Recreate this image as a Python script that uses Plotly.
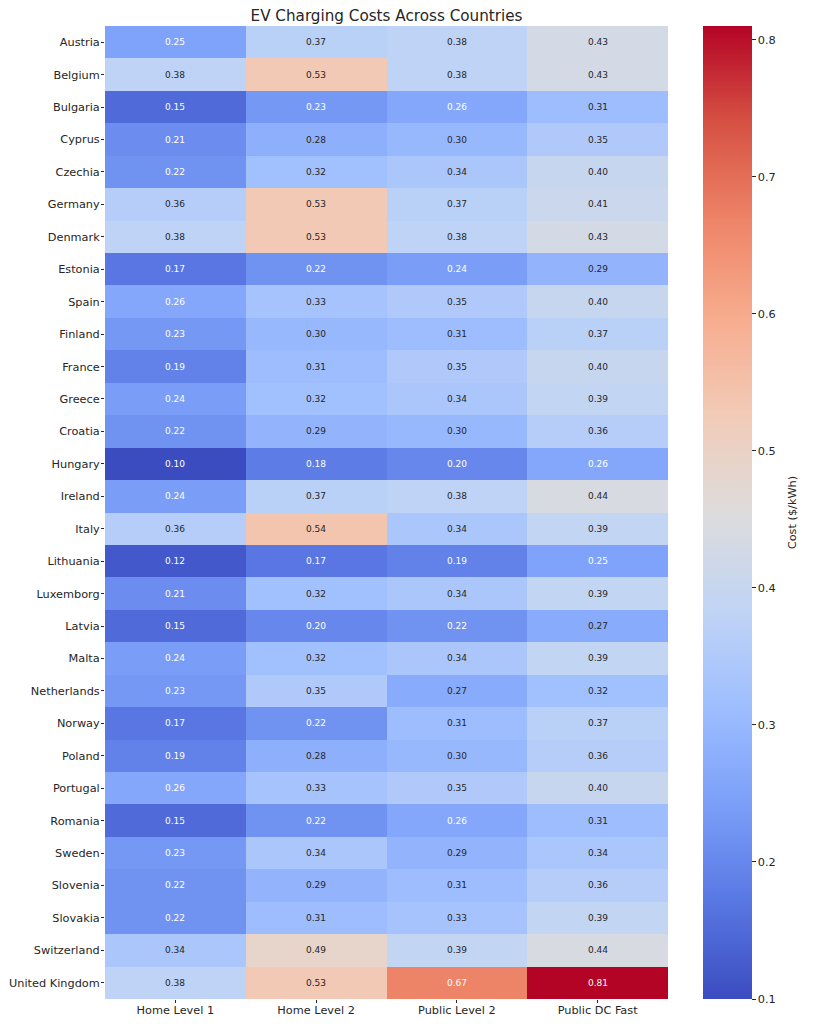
import plotly.graph_objects as go

countries = ["Austria", "Belgium", "Bulgaria", "Cyprus", "Czechia", "Germany", "Denmark",
             "Estonia", "Spain", "Finland", "France", "Greece", "Croatia", "Hungary",
             "Ireland", "Italy", "Lithuania", "Luxemborg", "Latvia", "Malta", "Netherlands",
             "Norway", "Poland", "Portugal", "Romania", "Sweden", "Slovenia", "Slovakia",
             "Switzerland", "United Kingdom"]
charger_types = ["Home Level 1", "Home Level 2", "Public Level 2", "Public DC Fast"]

home_level_1 = [0.25, 0.38, 0.15, 0.21, 0.22, 0.36, 0.38, 0.17, 0.26, 0.23, 0.19, 0.24, 0.22, 0.10,
                0.24, 0.36, 0.12, 0.21, 0.15, 0.24, 0.23, 0.17, 0.19, 0.26, 0.15, 0.23, 0.22, 0.22,
                0.34, 0.38]
home_level_2 = [0.37, 0.53, 0.23, 0.28, 0.32, 0.53, 0.53, 0.22, 0.33, 0.30, 0.31, 0.32, 0.29, 0.18,
                0.37, 0.54, 0.17, 0.32, 0.20, 0.32, 0.35, 0.22, 0.28, 0.33, 0.22, 0.34, 0.29, 0.31,
                0.49, 0.53]
public_level_2 = [0.38, 0.38, 0.26, 0.30, 0.34, 0.37, 0.38, 0.24, 0.35, 0.31, 0.35, 0.34, 0.30, 0.20,
                  0.38, 0.34, 0.19, 0.34, 0.22, 0.34, 0.27, 0.31, 0.30, 0.35, 0.26, 0.29, 0.31, 0.33,
                  0.39, 0.67]
public_dc_fast = [0.43, 0.43, 0.31, 0.35, 0.40, 0.41, 0.43, 0.29, 0.40, 0.37, 0.40, 0.39, 0.36, 0.26,
                  0.44, 0.39, 0.25, 0.39, 0.27, 0.39, 0.32, 0.37, 0.36, 0.40, 0.31, 0.34, 0.36, 0.39,
                  0.44, 0.81]
colorbar_ticks = [0.1, 0.2, 0.3, 0.4, 0.5, 0.6, 0.7, 0.8]

coolwarm = ["#3b4cc0", "#5977e3", "#7b9ff9", "#9ebeff", "#c0d4f5", "#dddcdc",
            "#f2cbb7", "#f7ac8e", "#ee8468", "#d65244", "#b40426"]
colorscale = [[i / (len(coolwarm) - 1), c] for i, c in enumerate(coolwarm)]

columns = [home_level_1, home_level_2, public_level_2, public_dc_fast]
z = [[columns[j][i] for j in range(len(columns))] for i in range(len(countries))]
zmin, zmax = 0.1, max(max(c) for c in columns)

FONT = "DejaVu Sans"
DARK = "#262626"
TICK = 11.3

fig = go.Figure(go.Heatmap(
    z=z, x=charger_types, y=countries,
    colorscale=colorscale, zmin=zmin, zmax=zmax, xgap=0, ygap=0,
    colorbar=dict(
        title=dict(text="Cost ($/kWh)", side="right", font=dict(family=FONT, size=11.3, color=DARK)),
        tickvals=colorbar_ticks, ticktext=[f"{t:.1f}" for t in colorbar_ticks],
        ticks="outside", ticklen=4, tickcolor=DARK,
        tickfont=dict(family=FONT, size=TICK, color=DARK),
        thickness=49, thicknessmode="pixels", len=1.0, lenmode="fraction",
        y=0.5, yanchor="middle",
        xref="container", x=703 / 819, xanchor="left", xpad=0, ypad=0, outlinewidth=0,
    ),
    hoverongaps=False,
))

annotations = []
for i, c in enumerate(countries):
    for j, t in enumerate(charger_types):
        v = z[i][j]
        col = "white" if (v < 0.265 or v > 0.6) else DARK
        annotations.append(dict(x=t, y=c, xref="x", yref="y", text=f"{v:.2f}", showarrow=False,
                                font=dict(family=FONT, size=9, color=col)))

fig.update_layout(
    width=819, height=1024,
    margin=dict(l=105, r=151, t=26, b=25, autoexpand=False),
    paper_bgcolor="white", plot_bgcolor="white",
    title=dict(text="EV Charging Costs Across Countries", x=(105 + 668) / 2 / 819, xanchor="center",
               y=1 - 16 / 1024, yanchor="middle", font=dict(family=FONT, size=15.2, color=DARK)),
    annotations=annotations,
    font=dict(family=FONT, color=DARK),
)
fig.update_xaxes(ticks="outside", ticklen=3, tickcolor=DARK, showgrid=False, zeroline=False,
                 tickfont=dict(family=FONT, size=TICK, color=DARK), showline=False, automargin=False,
                 ticklabelstandoff=-3)
fig.update_yaxes(autorange="reversed", ticks="outside", ticklen=3, tickcolor=DARK, showgrid=False,
                 zeroline=False, tickfont=dict(family=FONT, size=TICK, color=DARK), showline=False,
                 automargin=False, ticklabelstandoff=-1)

fig.write_html("out.html")
